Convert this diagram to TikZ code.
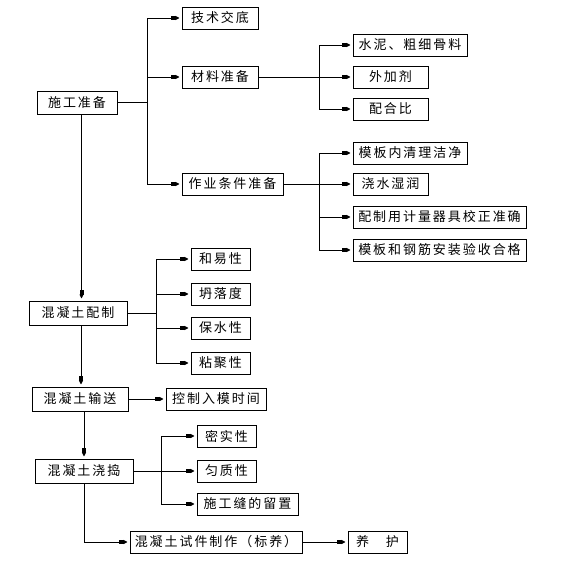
\documentclass[tikz,border=0pt]{standalone}
\usepackage{fontspec}
\usetikzlibrary{arrows.meta}
\newfontfamily\cjk[LetterSpace=15]{Noto Sans CJK SC}
\begin{document}
\begin{tikzpicture}[x=1pt,y=-1pt,
  box/.style={draw, line width=1pt, minimum height=22pt, inner sep=0pt,
    font=\cjk\fontsize{13pt}{13pt}\selectfont},
  bigbox/.style={box, minimum height=24pt},
  line/.style={line width=1pt},
  arr/.style={line width=1pt, shorten >=2pt,
    -{Rectangle[length=5pt,width=4pt]Triangle[length=4pt,width=4pt]}}]
\useasboundingbox (0,0) rectangle (565,562);
% nodes
\node[box, minimum width=80pt, minimum height=23pt] (sg) at (77,102.5) {施工准备};
\node[box, minimum width=76pt] (jsjd) at (220,18) {技术交底};
\node[box, minimum width=76pt] (cl) at (220,77) {材料准备};
\node[box, minimum width=101pt] (zy) at (232.5,184) {作业条件准备};
\node[box, minimum width=114pt] (sn) at (410,45) {水泥、粗细骨料};
\node[box, minimum width=75pt] (wj) at (390.5,77) {外加剂};
\node[box, minimum width=75pt] (ph) at (390.5,109) {配合比};
\node[box, minimum width=114pt] (mb) at (410,153) {模板内清理洁净};
\node[box, minimum width=75pt] (jssr) at (390.5,184) {浇水湿润};
\node[box, minimum width=173pt] (pz) at (439.5,217) {配制用计量器具校正准确};
\node[box, minimum width=173pt] (mg) at (439.5,250) {模板和钢筋安装验收合格};
\node[bigbox, minimum width=98pt] (pzh) at (78,313) {混凝土配制};
\node[box, minimum width=59pt] (hy) at (220.5,259) {和易性};
\node[box, minimum width=59pt] (tl) at (220.5,294) {坍落度};
\node[box, minimum width=59pt] (bs) at (220.5,328) {保水性};
\node[box, minimum width=59pt] (nj) at (220.5,363) {粘聚性};
\node[bigbox, minimum width=96pt] (ss) at (80,399) {混凝土输送};
\node[box, minimum width=100pt] (kz) at (216,399) {控制入模时间};
\node[bigbox, minimum width=98pt] (jd) at (84,471) {混凝土浇捣};
\node[box, minimum width=59pt] (ms) at (226.5,436) {密实性};
\node[box, minimum width=59pt] (yz) at (226.5,471) {匀质性};
\node[box, minimum width=101pt] (fz) at (247.5,504) {施工缝的留置};
\node[box, minimum width=172pt] (sj) at (216,542) {混凝土试件制作（标养）};
\node[box, minimum width=59pt] (yh) at (377.5,542) {养　护};
% branch points
\coordinate (b1) at (147,102.5);
\coordinate (b2) at (319,77);
\coordinate (b3) at (319,184);
\coordinate (b4) at (156,313);
\coordinate (b5) at (161,471);
\coordinate (c1) at (84,542);
% connectors
\draw[line] (sg.east) -- (b1);
\draw[arr] (b1) |- (jsjd.west);
\draw[arr] (b1) |- (cl.west);
\draw[arr] (b1) |- (zy.west);
\draw[arr] (cl.east) -- (wj.west);
\draw[arr] (b2) |- (sn.west);
\draw[arr] (b2) |- (ph.west);
\draw[arr] (zy.east) -- (jssr.west);
\draw[arr] (b3) |- (mb.west);
\draw[arr] (b3) |- (pz.west);
\draw[arr] (b3) |- (mg.west);
\draw[arr] (sg.south -| 81.5,0) -- (pzh.north -| 81.5,0);
\draw[line] (pzh.east) -- (b4);
\draw[arr] (b4) |- (hy.west);
\draw[arr] (b4) |- (tl.west);
\draw[arr] (b4) |- (bs.west);
\draw[arr] (b4) |- (nj.west);
\draw[arr] (pzh.south -| 81,0) -- (ss.north -| 81,0);
\draw[arr] (ss.east) -- (kz.west);
\draw[arr] (ss.south -| 84,0) -- (jd.north);
\draw[arr] (jd.east) -- (yz.west);
\draw[arr] (b5) |- (ms.west);
\draw[arr] (b5) |- (fz.west);
\draw[line] (jd.south) -- (c1);
\draw[arr] (c1) -- (sj.west);
\draw[arr] (sj.east) -- (yh.west);
\end{tikzpicture}
\end{document}
